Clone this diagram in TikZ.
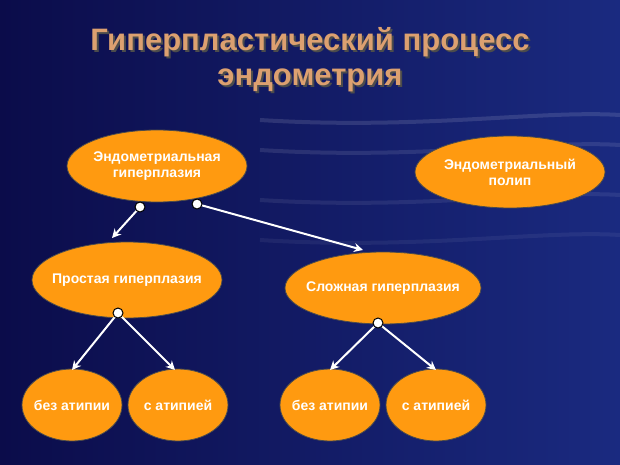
\documentclass[tikz,border=0pt]{standalone}
\usepackage{fontspec}
\setmainfont{Liberation Sans}
\usetikzlibrary{shapes.geometric,arrows.meta}
\definecolor{bgA}{HTML}{0B0C4A}
\definecolor{bgB}{HTML}{1A2A80}
\definecolor{ttl}{HTML}{DCA070}
\definecolor{org}{HTML}{FF9A10}
\tikzset{
 ell/.style={ellipse,draw=black!70,line width=0.8pt,fill=org,text=white,font=\bfseries\fontsize{14}{16}\selectfont,align=center,inner sep=-8pt},
 conn/.style={draw=white,line width=2pt,-{Stealth[open,length=9pt,width=9pt,fill=white]}},
 dotc/.style={circle,fill=white,draw=black,line width=1pt,inner sep=0pt,minimum size=10pt},
 ttlf/.style={font=\bfseries\fontsize{31}{34}\selectfont,inner sep=0pt}
}
\begin{document}
\begin{tikzpicture}[x=1pt,y=-1pt]
\useasboundingbox (0,0) rectangle (620,465);
\shade[left color=bgA,right color=bgB] (0,0) rectangle (620,465);
\foreach \y/\o in {120/0.12,150/0.1,200/0.08,240/0.06}{
 \draw[white,opacity=\o,line width=4pt] (260,\y) .. controls (420,\y+10) and (540,\y-10) .. (620,\y-5);}
\node[text=black!70,ttlf] at (312,44) {Гиперпластический процесс};
\node[text=ttl,ttlf] (t1) at (310,42) {Гиперпластический процесс};
\node[text=black!70,ttlf] at (312,82) {эндометрия};
\node[text=ttl,ttlf] (t2) at (310,80) {эндометрия};
\node[ell,minimum width=180pt,minimum height=72pt] (e1) at (157,166) {Эндометриальная\\гиперплазия};
\node[ell,minimum width=190pt,minimum height=72pt] (e2) at (510,172) {Эндометриальный\\полип};
\node[ell,minimum width=190pt,minimum height=76pt] (s) at (127,280) {Простая гиперплазия};
\node[ell,minimum width=196pt,minimum height=72pt] (c) at (383,288) {Сложная гиперплазия};
\node[ell,minimum width=100pt,minimum height=72pt] (l1) at (72,405) {без атипии};
\node[ell,minimum width=100pt,minimum height=72pt] (l2) at (178,405) {с атипией};
\node[ell,minimum width=100pt,minimum height=72pt] (l3) at (330,405) {без атипии};
\node[ell,minimum width=100pt,minimum height=72pt] (l4) at (436,405) {с атипией};
\coordinate (d1) at (140,207);
\coordinate (d2) at (197,204);
\coordinate (d3) at (118,313);
\coordinate (d4) at (378,323);
\draw[conn] (d1) -- (112,238);
\draw[conn] (d2) -- (363,250);
\draw[conn] (d3) -- (72,370);
\draw[conn] (d3) -- (175,370);
\draw[conn] (d4) -- (330,370);
\draw[conn] (d4) -- (436,370);
\foreach \d in {d1,d2,d3,d4} \node[dotc] at (\d) {};
\end{tikzpicture}
\end{document}
